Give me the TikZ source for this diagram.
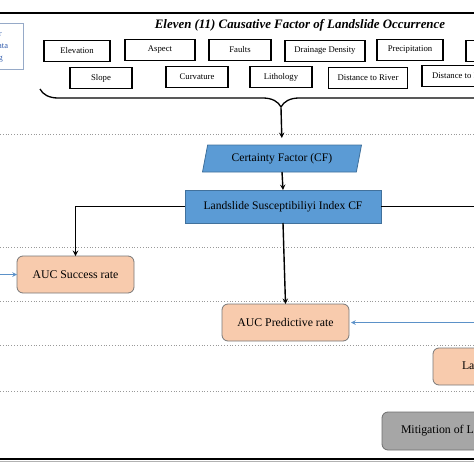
\documentclass[tikz,border=0pt]{standalone}
\usepackage{fontspec}
\setmainfont{Liberation Serif}
\usetikzlibrary{calc,arrows.meta,shapes.geometric,decorations.pathreplacing}
\definecolor{cfblue}{RGB}{91,155,213}
\definecolor{cfedge}{RGB}{65,113,156}
\definecolor{peach}{RGB}{248,203,173}
\definecolor{peachedge}{RGB}{120,120,120}
\definecolor{stone}{RGB}{166,166,166}
\definecolor{stoneedge}{RGB}{110,110,110}
\definecolor{linkblue}{RGB}{91,145,200}
\definecolor{inkblue}{RGB}{47,90,172}
\definecolor{framegray}{RGB}{150,170,200}
\tikzset{>=stealth, outer sep=0pt,
  factor/.style={draw=black, line width=1.1pt, minimum height=21, inner sep=0pt,
    font=\fontsize{8.7}{10}\selectfont},
  cfbox/.style={fill=cfblue, draw=cfedge, line width=0.8pt, inner sep=0pt,
    font=\fontsize{11.6}{13}\selectfont},
  result/.style={fill=peach, draw=peachedge, line width=0.8pt, rounded corners=6,
    minimum height=37, inner sep=0pt, font=\fontsize{11.8}{13}\selectfont},
  sep/.style={draw=gray!80, dotted, line width=0.8pt},
  flow/.style={->, line width=1.4pt},
  feed/.style={->, draw=linkblue, line width=1.1pt},
}
\begin{document}
\begin{tikzpicture}[x=1pt, y=-1pt]
\useasboundingbox (0,0) rectangle (474,474);
\clip (0,0) rectangle (474,474);

% outer frame and layer separators
\draw[line width=1.3pt] (0,13) -- (474,13);
\foreach \ypos in {134,247,301,345,391}
  \draw[sep] (0,\ypos) -- (474,\ypos);
\draw[line width=1.6pt] (0,459) -- (474,459);
\draw[gray!60, line width=0.7pt] (0,461.3) -- (474,461.3);

% input data (cut by the left edge)
\node[draw=framegray, line width=0.8pt, minimum width=123, minimum height=46,
  text=inkblue, align=center, font=\fontsize{8.5}{12}\selectfont] (inp) at (-38.5,46)
  {Landslide inventory for\\training and validation data\\by random data splitting};

% causative factors
\node[font=\fontsize{12.9}{14}\selectfont\bfseries\itshape] (title) at (300,25)
  {Eleven (11) Causative Factor of Landslide Occurrence};
\foreach \name/\txt/\x/\y/\w in {
    elev/Elevation/77/51/66, asp/Aspect/160/50/70, flt/Faults/240/50/62,
    drd/Drainage Density/325/51/80, prc/Precipitation/410/50/66, lu/Land Use/499/51/66,
    slp/Slope/101/78/62, crv/Curvature/197/77/62, lith/Lithology/281/77/62,
    dtr/Distance to River/368/78/79, dtrd/Distance to Road/462/76/80}
  \node[factor, minimum width=\w] (\name) at (\x,\y) {\txt};
\draw[line width=1.3pt, decorate, decoration={brace, mirror, amplitude=18pt}]
  (40,89) -- (522,89);
\coordinate (bracetip) at (281,108);

% certainty factor model
\node[cfbox, trapezium, trapezium left angle=64, trapezium right angle=116,
  trapezium stretches body, minimum width=159, minimum height=27] (cf) at (282,158.5)
  {Certainty Factor (CF)};
\node[cfbox, minimum width=196, minimum height=33] (lsi) at (283,206.5)
  {Landslide Susceptibiliyi Index CF};
\coordinate (lsiout) at (490,206.5);

% validation and outputs
\node[result, minimum width=117] (succ) at (75.5,274.5) {AUC Success rate};
\node[result, minimum width=127] (pred) at (285.5,322.5) {AUC Predictive rate};
\node[result, anchor=west, inner xsep=29] (lsm) at (433,366.5) {Landslide Susceptibility Map};
\node[result, fill=stone, draw=stoneedge, anchor=west, inner xsep=19, minimum height=38]
  (mit) at (382,431) {Mitigation of Landslide};
\coordinate (succin) at (-10,274.5);
\coordinate (predin) at (490,322.5);

% connectors
\draw[flow, shorten >=7pt] (bracetip) -- (cf.north);
\draw[flow] (cf.south) -- (lsi.north);
\draw[flow] (lsi.west) -| (succ.north);
\draw[flow] (lsi.south) -- (pred.north);
\draw[line width=1.4pt] (lsi.east) -- (lsiout);
\draw[feed] (succin) -- (succ.west);
\draw[feed, shorten >=2pt] (predin) -- (pred.east);
\end{tikzpicture}
\end{document}
